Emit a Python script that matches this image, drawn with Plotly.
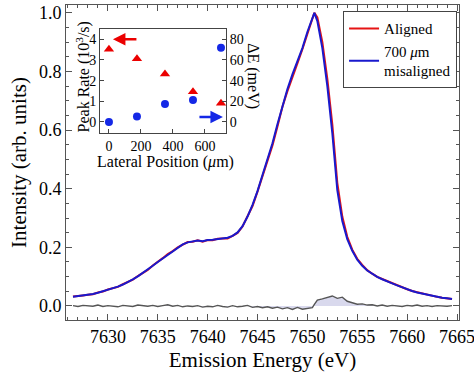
import plotly.graph_objects as go

# ---------------- data ----------------
energy = [7626.5, 7627.0, 7627.5, 7628.0, 7628.5, 7629.0, 7629.5, 7630.0, 7630.5, 7631.0,
          7631.5, 7632.0, 7632.5, 7633.0, 7633.5, 7634.0, 7634.5, 7635.0, 7635.5, 7636.0,
          7636.5, 7637.0, 7637.5, 7638.0, 7638.5, 7639.0, 7639.5, 7640.0, 7640.5, 7641.0,
          7641.5, 7642.0, 7642.5, 7643.0, 7643.5, 7644.0, 7644.5, 7645.0, 7645.5, 7646.0,
          7646.5, 7647.0, 7647.5, 7648.0, 7648.5, 7649.0, 7649.5, 7650.0, 7650.5, 7650.7,
          7651.0, 7651.5, 7652.0, 7652.5, 7653.0, 7653.5, 7654.0, 7654.5, 7655.0, 7655.5,
          7656.0, 7656.5, 7657.0, 7657.5, 7658.0, 7658.5, 7659.0, 7659.5, 7660.0, 7660.5,
          7661.0, 7661.5, 7662.0, 7662.5, 7663.0, 7663.5, 7664.0, 7664.5]

misaligned = [0.031, 0.033, 0.035, 0.038, 0.041, 0.045, 0.050, 0.055, 0.060, 0.066,
              0.073, 0.081, 0.091, 0.101, 0.112, 0.124, 0.137, 0.150, 0.162, 0.175,
              0.188, 0.199, 0.210, 0.217, 0.220, 0.223, 0.221, 0.225, 0.226, 0.228,
              0.231, 0.233, 0.239, 0.251, 0.272, 0.305, 0.345, 0.392, 0.447, 0.500,
              0.555, 0.620, 0.685, 0.740, 0.790, 0.835, 0.880, 0.935, 0.982, 1.000,
              0.972, 0.880, 0.750, 0.590, 0.395, 0.290, 0.228, 0.188, 0.158, 0.137,
              0.121, 0.109, 0.099, 0.091, 0.085, 0.077, 0.070, 0.063, 0.057, 0.051,
              0.046, 0.042, 0.038, 0.034, 0.031, 0.028, 0.026, 0.024]

aligned = [0.032, 0.033, 0.036, 0.038, 0.040, 0.046, 0.049, 0.056, 0.060, 0.065,
           0.074, 0.082, 0.090, 0.102, 0.112, 0.123, 0.138, 0.149, 0.163, 0.177,
           0.187, 0.200, 0.208, 0.218, 0.219, 0.224, 0.219, 0.225, 0.224, 0.229,
           0.230, 0.230, 0.239, 0.249, 0.271, 0.306, 0.341, 0.390, 0.442, 0.497,
           0.548, 0.612, 0.680, 0.733, 0.784, 0.828, 0.876, 0.932, 0.980, 1.000,
           0.985, 0.900, 0.775, 0.620, 0.420, 0.305, 0.236, 0.192, 0.161, 0.140,
           0.122, 0.110, 0.099, 0.092, 0.085, 0.078, 0.070, 0.062, 0.057, 0.051,
           0.047, 0.041, 0.038, 0.033, 0.031, 0.028, 0.025, 0.024]

difference = [0.001, -0.002, 0.002, 0.000, -0.001, 0.003, -0.002, 0.001, 0.000, -0.003,
              0.002, 0.001, -0.002, 0.003, 0.000, -0.001, 0.002, -0.002, 0.001, 0.004,
              -0.001, 0.002, -0.003, 0.000, -0.002, 0.001, -0.004, -0.001, -0.003, 0.002,
              -0.002, -0.004, 0.001, -0.003, -0.001, 0.002, -0.005, -0.002, -0.006, -0.003,
              -0.008, -0.004, -0.010, -0.006, -0.012, -0.005, -0.011, -0.008, -0.006, 0.005,
              0.020, 0.024, 0.030, 0.034, 0.026, 0.030, 0.016, 0.010, 0.006, 0.007,
              0.003, 0.004, 0.000, 0.003, -0.001, 0.002, 0.000, -0.002, 0.002, 0.000,
              0.003, -0.001, 0.001, -0.002, 0.001, 0.000, -0.001, 0.001]

positions = [0, 175, 350, 525, 700]          # lateral position (um)
peak_rate = [3.52, 3.06, 2.32, 1.46, 0.90]   # 10^3 /s
delta_e = [0.0, 5.2, 17.4, 21.3, 71.8]       # meV

x_ticks = [7630, 7635, 7640, 7645, 7650, 7655, 7660, 7665]
y_ticks = [0.0, 0.2, 0.4, 0.6, 0.8, 1.0]

# ---------------- figure ----------------
FONT = "Liberation Serif, Times New Roman, serif"
RED = "rgb(230,20,20)"
BLUE = "rgb(25,25,205)"
AX = "#555555"

fig = go.Figure()

fig.add_trace(go.Scatter(x=energy, y=difference, mode="lines",
                         line=dict(color="#555555", width=1.4),
                         fill="tozeroy", fillcolor="rgba(170,170,215,0.45)",
                         showlegend=False, xaxis="x", yaxis="y"))
fig.add_trace(go.Scatter(x=energy, y=aligned, mode="lines", name="Aligned",
                         line=dict(color=RED, width=2), xaxis="x", yaxis="y"))
fig.add_trace(go.Scatter(x=energy, y=misaligned, mode="lines",
                         name="700 <i>μ</i>m<br>misaligned",
                         line=dict(color=BLUE, width=2), xaxis="x", yaxis="y"))

# inset
fig.add_trace(go.Scatter(x=positions, y=peak_rate, mode="markers",
                         marker=dict(symbol="triangle-up", size=9, color="rgb(235,0,0)"),
                         showlegend=False, xaxis="x2", yaxis="y2"))
fig.add_trace(go.Scatter(x=positions, y=delta_e, mode="markers",
                         marker=dict(symbol="circle", size=8, color="rgb(20,40,230)"),
                         showlegend=False, xaxis="x2", yaxis="y3"))

axis_common = dict(showgrid=False, zeroline=False, showline=True, linecolor=AX,
                   linewidth=1, ticks="inside", tickcolor=AX, ticklabeloverflow="allow",
                   tickfont=dict(family=FONT, size=18, color="black"))
inset_common = dict(showgrid=False, zeroline=False, showline=True, linecolor="#444",
                    ticks="inside", tickcolor="#444", ticklen=4, ticklabeloverflow="allow",
                    tickfont=dict(family=FONT, size=14, color="black"))

fig.update_layout(
    width=474, height=381,
    margin=dict(l=66, r=15, t=5, b=61),
    paper_bgcolor="white", plot_bgcolor="white",
    font=dict(family=FONT, color="black"),
    xaxis=dict(domain=[0, 1], range=[7625.8, 7665.2], tickvals=x_ticks,
               mirror="ticks", ticklen=6,
               minor=dict(dtick=1, tick0=7630, ticks="inside", ticklen=3, tickcolor=AX),
               title=dict(text="Emission Energy (eV)", font=dict(family=FONT, size=21),
                          standoff=6),
               automargin=False, **axis_common),
    yaxis=dict(domain=[0, 1], range=[-0.048, 1.027], tickvals=y_ticks, tickformat=".1f",
               mirror="ticks", ticklen=6,
               minor=dict(dtick=0.05, tick0=0, ticks="inside", ticklen=3, tickcolor=AX),
               title=dict(text="Intensity (arb. units)", font=dict(family=FONT, size=21),
                          standoff=6),
               automargin=False, **axis_common),
    xaxis2=dict(domain=[0.0865, 0.407], anchor="y2", range=[-56, 731],
                tickvals=[0, 200, 400, 600], mirror=True, **inset_common),
    yaxis2=dict(domain=[0.594, 0.924], anchor="x2", range=[-0.53, 4.5],
                tickvals=[0, 1, 2, 3, 4], **inset_common),
    yaxis3=dict(overlaying="y2", side="right", anchor="x2", range=[-10.6, 90],
                tickvals=[0, 20, 40, 60, 80], **inset_common),
    legend=dict(x=0.705, y=0.98, xanchor="left", yanchor="top",
                bgcolor="white", bordercolor="#444", borderwidth=1,
                font=dict(family=FONT, size=15, color="black"),
                itemwidth=30, tracegroupgap=0),
)

fig.add_annotation(text="Peak Rate (10<sup>3</sup>/s)", textangle=-90,
                   xref="paper", yref="paper", x=0.0433, y=0.77,
                   xanchor="center", yanchor="middle",
                   showarrow=False, font=dict(family=FONT, size=16))
fig.add_annotation(text="ΔE (meV)", textangle=90,
                   xref="paper", yref="paper", x=0.475, y=0.775,
                   xanchor="center", yanchor="middle",
                   showarrow=False, font=dict(family=FONT, size=16))
fig.add_annotation(text="Lateral Position (<i>μ</i>m)",
                   xref="paper", yref="paper", x=0.252, y=0.502,
                   xanchor="center", yanchor="middle",
                   showarrow=False, font=dict(family=FONT, size=16))

# direction arrows in the inset
fig.add_annotation(x=25, y=4.0, ax=181, ay=4.0, xref="x2", yref="y2",
                   axref="x2", ayref="y2", text="", showarrow=True,
                   arrowhead=2, arrowsize=1, arrowwidth=2.5, arrowcolor="rgb(235,0,0)")
fig.add_annotation(x=712, y=0.24, ax=556, ay=0.24, xref="x2", yref="y2",
                   axref="x2", ayref="y2", text="", showarrow=True,
                   arrowhead=2, arrowsize=1, arrowwidth=2.5, arrowcolor="rgb(20,40,230)")

fig.write_html("out.html", config={"displayModeBar": False},
               post_script="document.body.style.margin='0px';document.body.style.overflow='hidden';")
